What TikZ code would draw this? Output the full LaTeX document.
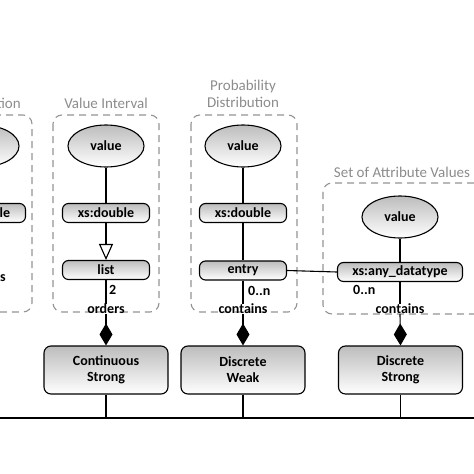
\documentclass[tikz,border=0pt]{standalone}
\usepackage{fontspec}
\setmainfont{Carlito}
\usetikzlibrary{shapes.geometric,arrows.meta}
\tikzset{
  grad/.style={top color=black!26, bottom color=white, draw=black, line width=1.1pt},
  bf/.style={font=\bfseries\fontsize{14}{16}\selectfont},
  valell/.style={grad, ellipse, minimum width=76pt, minimum height=42pt, inner sep=0pt, bf},
  tbox/.style={grad, rounded corners=6pt, minimum width=87pt, minimum height=19pt, inner sep=0pt, bf},
  bigbox/.style={grad, rounded corners=7pt, minimum width=124pt, minimum height=48pt, inner sep=0pt, align=center, bf},
  grp/.style={draw=black!42, dash pattern=on 7pt off 5pt, line width=1.1pt, rounded corners=9pt},
  ttl/.style={text=black!45, font=\fontsize{15}{17}\selectfont, inner sep=0pt, align=center},
  lbl/.style={inner sep=0pt, bf},
  conn/.style={draw=black, line width=1.1pt},
  opentri/.style={-{Triangle[open, fill=white, length=16pt, width=14pt]}},
  diam/.style={-{Diamond[length=22pt, width=13pt]}},
}
\begin{document}
\begin{tikzpicture}[x=1pt,y=-1pt]
\useasboundingbox (0,0) rectangle (474,474);
\clip (0,0) rectangle (474,474);

% group frames
\draw[grp] (-80,115) rectangle (32,312);
\draw[grp] (53,115) rectangle (159,312);
\draw[grp] (191,115) rectangle (297,312);
\draw[grp] (323,183) rectangle (500,314);

% titles
\node[ttl, anchor=east] (t0) at (21,103) {Distribution};
\node[ttl] (t1) at (106,103) {Value Interval};
\node[ttl] (t2) at (243,94) {Probability\\Distribution};
\node[ttl] (t3) at (402,172) {Set of Attribute Values};

% left partial group
\node[valell] (v0) at (-19,146) {value};
\node[tbox] (d0) at (-18,213) {xs:double};
\draw[conn] (v0) -- (d0);
\node[lbl, anchor=east] (s0) at (6,277) {values};

% Value Interval
\node[valell] (v1) at (106,146) {value};
\node[tbox] (d1) at (106,213) {xs:double};
\node[tbox] (l1) at (106,270) {list};
\node[lbl, anchor=west] (two) at (109,290) {2};
\node[lbl] (ord) at (106,309) {orders};
\node[bigbox] (cs) at (106,370) {Continuous\\Strong};
\draw[conn] (v1) -- (d1);
\draw[conn, opentri] (d1) -- (l1);
\draw[conn] (l1.south) -- (ord.north);
\draw[conn, diam] (ord.south) -- (cs.north);

% Probability Distribution
\node[valell] (v2) at (243,146) {value};
\node[tbox] (d2) at (243,213) {xs:double};
\node[tbox] (e2) at (243,270.5) {entry};
\node[lbl, anchor=west] (n2) at (248,291) {0..n};
\node[lbl] (c2) at (243,309) {contains};
\node[bigbox] (dw) at (243,370) {Discrete\\Weak};
\draw[conn] (v2) -- (d2);
\draw[conn] (d2) -- (e2);
\draw[conn] (e2.south) -- (c2.north);
\draw[conn, diam] (c2.south) -- (dw.north);

% Set of Attribute Values
\node[valell] (v3) at (400,217) {value};
\node[tbox, minimum width=125pt] (a3) at (400,272) {xs:any\_datatype};
\node[lbl, anchor=west] (n3) at (353,290) {0..n};
\node[lbl] (c3) at (400,309) {contains};
\node[bigbox] (ds) at (400.5,370) {Discrete\\Strong};
\draw[conn] (v3) -- (a3);
\draw[conn] (a3.south) -- (c3.north);
\draw[conn, diam] (c3.south) -- (ds.north);

% cross link
\draw[conn] (e2.east) -- (a3.west);

% bottom bus
\coordinate (bl) at (0,418);
\coordinate (br) at (474,418);
\draw[conn] (bl) -- (br);
\draw[conn] (cs.south) -- (cs.south |- bl);
\draw[conn] (dw.south) -- (dw.south |- bl);
\draw[conn] (ds.south) -- (ds.south |- bl);
\end{tikzpicture}
\end{document}
